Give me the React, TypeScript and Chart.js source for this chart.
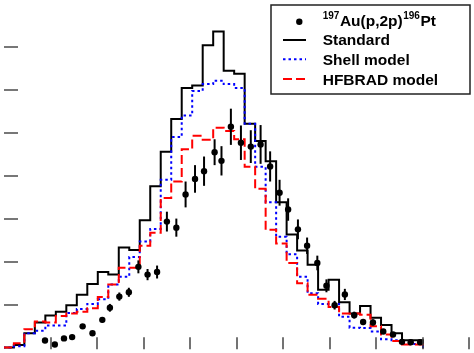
import React, { useEffect, useRef } from "react";
import { Chart, registerables } from "chart.js";

Chart.register(...registerables);

// ---------- data ----------
// histogram binning (x axis in units of one major tick)
const BIN_START = -0.0135;
const BIN_WIDTH = 0.2256;

const standardCounts = [
  0.1, 0.2, 0.75, 3.5, 6.0, 7.6, 8.5, 10.0, 12.4, 14.9, 17.7, 17.1, 23.4, 22.8,
  29.7, 37.6, 45.6, 53.2, 60.4, 61.0, 70.3, 73.5, 64.4, 63.7, 52.1, 48.1, 43.4,
  33.9, 26.4, 22.7, 19.4, 13.6, 15.9, 10.7, 8.1, 9.8, 7.1, 5.4, 3.5, 1.9,
];
const shellCounts = [
  0.1, 0.2, 0.5, 3.5, 4.1, 5.3, 5.3, 8.2, 9.1, 10.3, 11.4, 14.8, 16.6, 21.2,
  24.8, 27.7, 39.1, 49.0, 54.0, 59.7, 61.3, 62.1, 61.3, 60.4, 52.1, 42.1, 33.9,
  25.9, 21.8, 16.6, 12.8, 10.3, 10.3, 7.3, 4.8, 4.7, 3.9, 2.1, 1.9, 1.0,
];
const hfbradCounts = [
  0.1, 0.2, 1.2, 4.4, 6.2, 6.0, 7.5, 8.1, 8.5, 9.3, 11.9, 14.8, 18.7, 18.7,
  23.8, 26.8, 34.9, 38.7, 46.2, 49.3, 48.4, 51.2, 50.4, 48.5, 42.1, 37.0, 27.5,
  24.3, 19.8, 15.1, 12.4, 11.5, 9.6, 8.1, 8.1, 7.8, 5.1, 3.2, 1.7, 0.9,
];

const dataX = [
  0.882, 1.093, 1.29, 1.465, 1.691, 1.903, 2.114, 2.277, 2.48, 2.685, 2.89,
  3.087, 3.292, 3.503, 3.706, 3.905, 4.108, 4.302, 4.529, 4.677, 4.879, 5.095,
  5.307, 5.518, 5.723, 5.926, 6.11, 6.321, 6.518, 6.738, 6.934, 7.11, 7.33,
  7.531, 7.723, 7.934, 8.156, 8.366, 8.558, 8.746, 8.949,
];
const dataY = [
  1.8, 0.9, 2.3, 2.6, 5.1, 3.5, 6.6, 9.4, 12.0, 13.0, 18.9, 17.1, 17.7, 29.4,
  28.0, 35.7, 39.3, 41.1, 45.5, 43.5, 51.4, 47.7, 46.8, 47.3, 42.2, 36.1, 32.2,
  27.6, 23.8, 19.8, 14.5, 10.0, 12.5, 7.7, 6.1, 6.0, 3.9, 3.2, 1.5, 1.4, 1.4,
];
const dataErr = [
  0.3, 0.3, 0.3, 0.4, 0.5, 0.4, 0.6, 0.9, 0.95, 1.05, 1.5, 1.3, 1.5, 2.3, 2.1,
  3.0, 3.2, 3.4, 3.0, 3.4, 4.2, 4.0, 3.8, 4.5, 3.5, 3.0, 2.6, 2.3, 1.9, 1.7,
  1.5, 1.0, 1.3, 0.8, 0.7, 0.7, 0.5, 0.5, 0.4, 0.4, 0.4,
];

const xTickValues = [1, 2, 3, 4, 5, 6, 7, 8, 9, 10];
const yTickValues = [10, 20, 30, 40, 50, 60, 70];

const legendLabels = ["Standard", "Shell model", "HFBRAD model"];

// ---------- helpers ----------
function histPoints(counts: number[]) {
  const pts = counts.map((c, i) => ({ x: BIN_START + i * BIN_WIDTH, y: c }));
  const end = BIN_START + counts.length * BIN_WIDTH;
  pts.push({ x: end, y: counts[counts.length - 1] });
  pts.push({ x: end, y: 0 });
  return pts;
}

const W = 474;
const H = 353;
const PX_PER_Y = 4.41;
const Y_MIN = -0.7 / PX_PER_Y;

const FONT = "'Liberation Sans', Arial, Helvetica, sans-serif";

const overlayPlugin = {
  id: "rootOverlay",
  afterDatasetsDraw(chart: any) {
    const ctx = chart.ctx;
    const xs = chart.scales.x;
    const ys = chart.scales.y;
    const area = chart.chartArea;
    ctx.save();
    // error bars
    ctx.strokeStyle = "#000";
    ctx.lineWidth = 2;
    dataX.forEach((x, i) => {
      const px = xs.getPixelForValue(x);
      const y1 = ys.getPixelForValue(dataY[i] - dataErr[i]);
      const y2 = ys.getPixelForValue(dataY[i] + dataErr[i]);
      ctx.beginPath();
      ctx.moveTo(px, y1);
      ctx.lineTo(px, y2);
      ctx.stroke();
    });
    // ticks (ROOT style, pointing inward)
    ctx.strokeStyle = "#777";
    ctx.lineWidth = 2;
    yTickValues.forEach((v) => {
      const py = Math.round(ys.getPixelForValue(v));
      ctx.beginPath();
      ctx.moveTo(area.left, py);
      ctx.lineTo(area.left + 14, py);
      ctx.stroke();
    });
    ctx.strokeStyle = "#444";
    ctx.lineWidth = 1.5;
    const bottom = ys.getPixelForValue(0);
    xTickValues.forEach((v) => {
      const px = Math.round(xs.getPixelForValue(v));
      ctx.beginPath();
      ctx.moveTo(px, bottom + 1);
      ctx.lineTo(px, bottom - 11);
      ctx.stroke();
    });

    // legend
    const lx = 271, ly = 5, lw = 199, lh = 89;
    ctx.fillStyle = "#fff";
    ctx.fillRect(lx, ly, lw, lh);
    ctx.strokeStyle = "#222";
    ctx.lineWidth = 1.5;
    ctx.strokeRect(lx, ly, lw, lh);

    const textX = 322.7;
    // row 1: data marker
    ctx.fillStyle = "#000";
    ctx.beginPath();
    ctx.arc(299.3, 21.7, 3.2, 0, Math.PI * 2);
    ctx.fill();
    const big = `bold 15.5px ${FONT}`;
    const small = `bold 10px ${FONT}`;
    ctx.textBaseline = "alphabetic";
    ctx.textAlign = "left";
    let cx = textX;
    const parts: [string, boolean][] = [
      ["197", true],
      ["Au(p,2p)", false],
      ["196", true],
      ["Pt", false],
    ];
    parts.forEach(([t, sup]) => {
      ctx.font = sup ? small : big;
      ctx.fillText(t, cx, sup ? 18.5 : 26);
      cx += ctx.measureText(t).width + (sup ? 0.5 : 0.5);
    });

    const rows = [
      { y: 40, color: "#000", dash: [] as number[], label: legendLabels[0], base: 45 },
      { y: 59.3, color: "#0000ff", dash: [2.5, 3], label: legendLabels[1], base: 65 },
      { y: 79, color: "#ff0000", dash: [9, 4], label: legendLabels[2], base: 85 },
    ];
    rows.forEach((r) => {
      ctx.strokeStyle = r.color;
      ctx.lineWidth = 2;
      ctx.setLineDash(r.dash);
      ctx.beginPath();
      ctx.moveTo(283, r.y);
      ctx.lineTo(306, r.y);
      ctx.stroke();
      ctx.setLineDash([]);
      ctx.fillStyle = "#000";
      ctx.font = big;
      ctx.fillText(r.label, textX, r.base);
    });
    ctx.restore();
  },
};

export default function App() {
  const ref = useRef<HTMLCanvasElement | null>(null);

  useEffect(() => {
    if (!ref.current) return;
    const chart = new Chart(ref.current, {
      type: "line",
      data: {
        datasets: [
          {
            type: "scatter",
            label: "data",
            data: dataX.map((x, i) => ({ x, y: dataY[i] })),
            pointRadius: 3.2,
            pointBackgroundColor: "#000",
            pointBorderColor: "#000",
            pointBorderWidth: 0,
            showLine: false,
            order: 0,
          } as any,
          {
            label: legendLabels[2],
            data: histPoints(hfbradCounts),
            borderColor: "#ff0000",
            borderWidth: 2,
            borderDash: [9, 4],
            stepped: "after",
            pointRadius: 0,
            fill: false,
            order: 1,
          },
          {
            label: legendLabels[1],
            data: histPoints(shellCounts),
            borderColor: "#0000ff",
            borderWidth: 2,
            borderDash: [2.5, 3],
            stepped: "after",
            pointRadius: 0,
            fill: false,
            order: 2,
          },
          {
            label: legendLabels[0],
            data: histPoints(standardCounts),
            borderColor: "#000",
            borderWidth: 2,
            stepped: "after",
            pointRadius: 0,
            fill: false,
            order: 3,
          },
        ],
      },
      options: {
        animation: false,
        responsive: false,
        maintainAspectRatio: false,
        devicePixelRatio: 1,
        layout: { padding: 0 },
        events: [],
        plugins: {
          legend: { display: false },
          tooltip: { enabled: false },
          title: { display: false },
        },
        scales: {
          x: {
            type: "linear",
            display: false,
            min: 0,
            max: (10 * W) / 473,
          },
          y: {
            type: "linear",
            display: false,
            min: Y_MIN,
            max: Y_MIN + H / PX_PER_Y,
          },
        },
      },
      plugins: [overlayPlugin],
    });
    return () => chart.destroy();
  }, []);

  return (
    <div
      style={{
        position: "absolute",
        left: 0,
        top: 0,
        width: W,
        height: H,
        overflow: "hidden",
        background: "#fff",
      }}
    >
      <canvas
        ref={ref}
        width={W}
        height={H}
        style={{ width: W, height: H, display: "block" }}
      />
    </div>
  );
}
